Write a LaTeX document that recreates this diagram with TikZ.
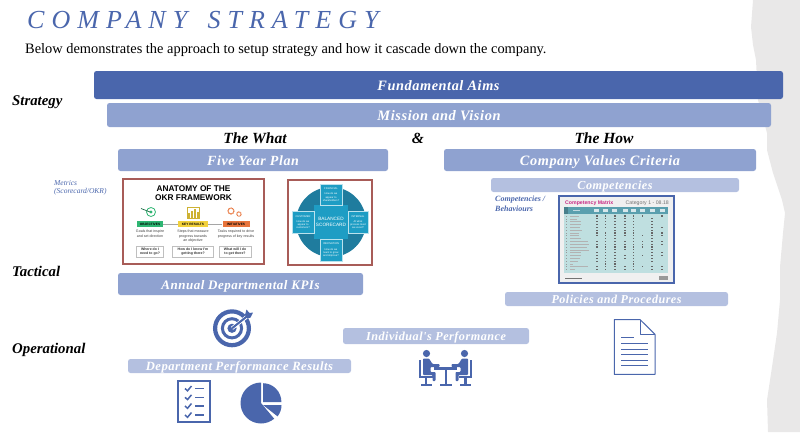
\documentclass[tikz,border=0pt]{standalone}
\usepackage{fontspec}
\setmainfont{Liberation Serif}
\setsansfont{Liberation Sans}
\newfontfamily\titlefont[LetterSpace=27,WordSpace=1.5,ItalicFont={Liberation Serif Italic}]{Liberation Serif}
\newfontfamily\barfont[LetterSpace=4]{Liberation Serif}
\usetikzlibrary{arrows.meta}
\definecolor{navy}{HTML}{4A66AC}
\definecolor{midb}{HTML}{8FA2D0}
\definecolor{lightb}{HTML}{B4C0E0}
\definecolor{paper}{HTML}{E9E8E8}
\definecolor{frameR}{HTML}{A85C58}
\definecolor{tealD}{HTML}{1F7C9E}
\definecolor{tealL}{HTML}{1E9DC4}
\definecolor{rowT}{HTML}{BFDFE0}
\definecolor{headT}{HTML}{5A9FAE}
\definecolor{okrG}{HTML}{2FB673}
\definecolor{okrY}{HTML}{F2D13C}
\definecolor{okrO}{HTML}{E8743B}
\tikzset{
 barbox/.style={anchor=mid,inner sep=0pt,text=white,font=\barfont\itshape\bfseries},
 side/.style={font=\itshape\bfseries\fontsize{14.8}{15}\selectfont,text=black,anchor=west,inner sep=0pt},
 head/.style={font=\itshape\bfseries\fontsize{15.5}{15.5}\selectfont,text=black,inner sep=0pt},
 note/.style={font=\itshape\bfseries,text=navy,align=left,anchor=north west,inner sep=0pt},
 picframe/.style={draw=frameR,line width=1.2pt,fill=white},
 bscbox/.style={fill=tealL,draw=white!70!tealL,line width=.6pt,text=white,inner sep=0pt,align=center,font=\sffamily\fontsize{2.6}{3.2}\selectfont},
 okrlab/.style={inner sep=0pt,font=\sffamily\bfseries\fontsize{3.2}{3.2}\selectfont,text=black},
 okrtxt/.style={inner sep=0pt,align=center,font=\sffamily\fontsize{3.6}{4.3}\selectfont,text=black!75},
 okrq/.style={draw=black!25,line width=.4pt,inner sep=0pt,align=center,font=\sffamily\bfseries\fontsize{3.5}{4.2}\selectfont,text=black!80},
 iconline/.style={draw=navy,line width=1.5pt},
}
\newcommand{\barnode}[7]{% name x1 y1 x2 y2 colour text/size
 \fill[#6,rounded corners=2.5pt] (#2,#3) rectangle (#4,#5);
 \node[barbox] (#1) at ({(#2+#4)/2},{(#3+#5)/2+1.3+0.085*(#5-#3)}) {#7};}
\newcommand{\fs}[1]{\fontsize{#1}{#1}\selectfont}
\begin{document}
\begin{tikzpicture}[x=1pt,y=-1pt]
\useasboundingbox (0,0) rectangle (800,432);
% torn paper margin
\fill[paper] (753,0) -- (751,27) -- (753,45) -- (756,60) -- (758,100) -- (767,133) -- (767,150) -- (773,173) -- (782,200) -- (785,213) -- (783,233) -- (780,267) -- (780,300) -- (777,333) -- (772,367) -- (767,400) -- (768,432) -- (800,432) -- (800,0) -- cycle;
% title
\node[anchor=west,inner sep=0pt,text=navy,font=\titlefont\itshape\fs{26}] (title) at (27,20) {COMPANY STRATEGY};
\node[anchor=west,inner sep=0pt,font=\fs{14.4}] (intro) at (25,50) {Below demonstrates the approach to setup strategy and how it cascade down the company.};
% bars
\barnode{aims}{94}{71}{783}{99}{navy}{\fs{14.3}Fundamental Aims}
\barnode{mission}{107}{103}{771}{127}{midb}{\fs{14.4}Mission and Vision}
\barnode{five}{118}{149}{388}{171}{midb}{\fs{14}Five Year Plan}
\barnode{values}{444}{149}{756}{171}{midb}{\fs{14.3}Company Values Criteria}
\barnode{comp}{491}{178}{739}{192}{lightb}{\fs{12.2}Competencies}
\barnode{annual}{118}{273}{363}{295}{midb}{\fs{13}Annual Departmental KPIs}
\barnode{policies}{505}{292}{728}{306}{lightb}{\fs{12.1}Policies and Procedures}
\barnode{indiv}{343}{328}{529}{344}{lightb}{\fs{12.2}Individual's Performance}
\barnode{dept}{128}{359}{351}{373}{lightb}{\fs{12.6}Department Performance Results}
% side labels
\node[side] (strategy) at (12,102) {Strategy};
\node[side] (tactical) at (12,271) {Tactical};
\node[side] (operational) at (12,350) {Operational};
\node[head] (what) at (255,138) {The What};
\node[head] (amp) at (418,138) {\&};
\node[head] (how) at (604,138) {The How};
\node[note,font=\itshape\fontsize{7.5}{8.4}\selectfont,text=navy] (metrics) at (54,180) {Metrics\\(Scorecard/OKR)};
\node[note,font=\itshape\bfseries\fontsize{8}{10}\selectfont,text=navy] (behav) at (495,196) {Competencies /\\Behaviours};
% OKR picture
\draw[picframe] (123,179) rectangle (264,264);
\node[inner sep=0pt,align=center,font=\sffamily\bfseries\fs{8.3}] (okrtitle) at (193.5,193.5) {ANATOMY OF THE\\[.5pt]OKR FRAMEWORK};
\draw[black!35,line width=.5pt] (163,224.2) -- (178,224.2) (208,224.2) -- (222,224.2);
\node[okrlab,fill=okrG,minimum width=26pt,minimum height=5.5pt] (obj) at (150,224.2) {OBJECTIVES};
\node[okrlab,fill=okrY,minimum width=30pt,minimum height=5.5pt] (kr) at (193,224.2) {KEY RESULTS};
\node[okrlab,fill=okrO,minimum width=27pt,minimum height=5.5pt] (ini) at (236,224.2) {INITIATIVES};
\node[okrtxt,anchor=north] (d1) at (150,230) {Goals that inspire\\and set direction};
\node[okrtxt,anchor=north] (d2) at (193,230) {Steps that measure\\progress towards\\an objective};
\node[okrtxt,anchor=north] (d3) at (236,230) {Tasks required to drive\\progress of key results};
\node[okrq,minimum width=27pt,minimum height=10.5pt] (q1) at (150,251.5) {Where do I\\need to go?};
\node[okrq,minimum width=41pt,minimum height=10.5pt] (q2) at (193,251.5) {How do I know I'm\\getting there?};
\node[okrq,minimum width=32pt,minimum height=10.5pt] (q3) at (235,251.5) {What will I do\\to get there?};
% OKR small icons
\draw[okrG,line width=.8pt,fill=white] (151,212) circle (4.5);
\fill[okrG] (151,212) circle (1.7);
\draw[okrG!60!black,line width=.7pt] (141,208.5) -- (150,212);
\draw[okrY!85!black,line width=.5pt] (187,207) rectangle (199,218);
\foreach \xx/\hh in {189/5,192/7,195/9,198/6}{\fill[okrY!85!black] (\xx-1,218) rectangle (\xx+.6,218-\hh);}
\draw[okrO,line width=1.1pt,dash pattern=on 1pt off .5pt] (231,211) circle (3);
\draw[okrO,line width=1pt,dash pattern=on 1pt off .5pt] (239,214) circle (2.2);
% balanced scorecard
\draw[picframe] (288,180) rectangle (372,265);
\fill[tealD] (331,222) circle (35);
\fill[tealL] (314,205) rectangle (348,239);
\node[inner sep=0pt,align=center,text=white,font=\sffamily\fs{4.7}] (bsc) at (331,222) {BALANCED\\[2pt]SCORECARD};
\node[bscbox,minimum width=22pt,minimum height=21pt] (bf) at (331,194.5) {FINANCIAL\\[2pt]How do we\\appear to\\shareholders?};
\node[bscbox,minimum width=22pt,minimum height=22pt] (bc) at (303,222) {CUSTOMER\\[2pt]How do we\\appear to\\customers?};
\node[bscbox,minimum width=20pt,minimum height=22pt] (bi) at (358,222) {INTERNAL\\[2pt]At what\\process must\\we excel?};
\node[bscbox,minimum width=22pt,minimum height=22pt] (bn) at (331,250) {INNOVATION\\[2pt]How do we\\learn to grow\\and improve?};
% competency matrix
\draw[draw=navy,line width=1.2pt,fill=black!6] (559,196) rectangle (674,283);
\node[anchor=west,inner sep=0pt,text=magenta!80!black,font=\sffamily\bfseries\fs{5.2}] (cmt) at (565,203) {Competency Matrix};
\node[anchor=east,inner sep=0pt,text=black!55,font=\sffamily\fs{5.2}] (cat) at (669,203) {Category 1 - 08.18};
\fill[headT] (564,207) rectangle (668,214);
\fill[rowT] (564,214) rectangle (668,273);
\fill[headT!80!black] (564,207) rectangle (568,214);
\fill[white!60!headT] (573,209.5) rectangle (580,211);
\foreach \c in {596.7,605.3,614.7,625,633.3,642.3,652,662}{\fill[white!75!headT] (\c-2.5,209) rectangle (\c+2.5,212);}
\foreach \r/\w/\cols [count=\i from 0] in {
 0/9/{1,2,3,4,5,6,8},1/7/{1,2,3,4,5,7},2/11/{1,2,3,4,5,7},3/11/{1,2,3,4,5,7},4/10/{1,2,3,4,5,7,8},5/12/{1,3,4,5,7},6/9/{1,2,3,4,5,7,8},7/9/{1,2,3,4,5,6,7,8},8/11/{2,3,5,7},9/18/{1,2,3,4,5,6,7,8},10/19/{1,2,3,4,5,6,7,8},11/17/{1,2,3,4,5,6,7},12/19/{2,3,4,5,7},13/11/{1,2,3,5,7,8},14/11/{1,2,3,4,5,6,7,8},15/10/{1,2,3,4,5,7},16/8/{1,2,3,5,7},17/3/{2,3,5},18/18/{1,2,3,4,5,6,7,8},19/5/{1,2,3,4,5,7,8}}{
 \pgfmathsetmacro{\yy}{216+\i*2.82}
 \fill[black!30] (570,\yy-.3) rectangle (570+\w,\yy+.3);
 \fill[black!40] (566,\yy-.3) rectangle (567,\yy+.3);
 \foreach \k in \cols {
  \pgfmathsetmacro{\cx}{{596.7,605.3,614.7,625,633.3,642.3,652,662}[\k-1]}
  \fill[black!60] (\cx-.8,\yy-.6) rectangle (\cx+.8,\yy+.6);
 }
}
\fill[black!55] (565,277.5) rectangle (582,278.5);
\fill[black!40] (659,276) rectangle (668,280);
% target icon
\draw[navy,line width=4.2pt] (232,328.3) circle (16.9);
\draw[navy,line width=3pt] (232,328.3) circle (9.6);
\fill[navy] (232,328.3) circle (4.6);
\draw[white,line width=3.6pt] (232,328.3) -- (249,315);
\draw[navy,line width=2pt] (232,328.3) -- (248,315.5);
\fill[navy] (245,315) -- (246.5,309.5) -- (249.5,313) -- (253,312.5) -- (250.5,317.5) -- (247.5,318.5) -- cycle;
% checklist
\draw[iconline,line width=1.9pt] (178.2,381) rectangle (210,422.4);
\foreach \yy in {388.5,397.3,406,415}{
 \draw[navy,line width=1.5pt] (185,\yy) -- (187.5,\yy+2.3) -- (191.5,\yy-2.5);
 \draw[navy,line width=1.5pt] (195,\yy) -- (204,\yy);
}
% pie
\fill[navy] (261,403) -- (261,382.5) arc (-90:-310:20.5) -- cycle;
\fill[navy] (263,383.2) -- (263,402) -- (281.4,402) arc (0:-90:18.4 and 18.8) -- cycle;
\fill[navy] (263,405) -- (281.5,405) arc (0:38:18.5) -- cycle;
% meeting icon
\foreach \m in {0,1}{
\begin{scope}[shift={(445.5,0)},xscale={1-2*\m}]
 \fill[navy] (-19,353.5) circle (3.6);
 \fill[navy,rounded corners=.8pt] (-22.5,358.5) -- (-16.5,358.5) -- (-13,364) -- (-6,364) -- (-6,367) -- (-15,367) -- (-15,372) -- (-10,372) -- (-10,381) -- (-13,381) -- (-13,375) -- (-22.5,375) -- cycle;
 \fill[navy] (-26.5,360) rectangle (-24.5,376);
 \fill[navy] (-26.5,376) rectangle (-13,378);
 \fill[navy] (-21,378) rectangle (-18.8,384);
 \fill[navy] (-25,384) rectangle (-14,386);
\end{scope}}
\fill[navy] (434,367) rectangle (457,369.5);
\fill[navy] (444.5,369.5) rectangle (447,384);
\fill[navy] (440,384) rectangle (451.5,386);
% document icon
\draw[navy,line width=1pt,line join=round] (614.3,319.5) -- (640,319.5) -- (655,334.3) -- (655,374.3) -- (614.3,374.3) -- cycle;
\draw[navy,line width=1pt,line join=round] (640,319.5) -- (640,334.3) -- (655,334.3);
\draw[navy,line width=1pt] (621,337.7) -- (634,337.7);
\foreach \yy in {343.3,349,354.3,360,365.7}{\draw[navy,line width=1pt] (621,\yy) -- (648,\yy);}
\end{tikzpicture}
\end{document}
